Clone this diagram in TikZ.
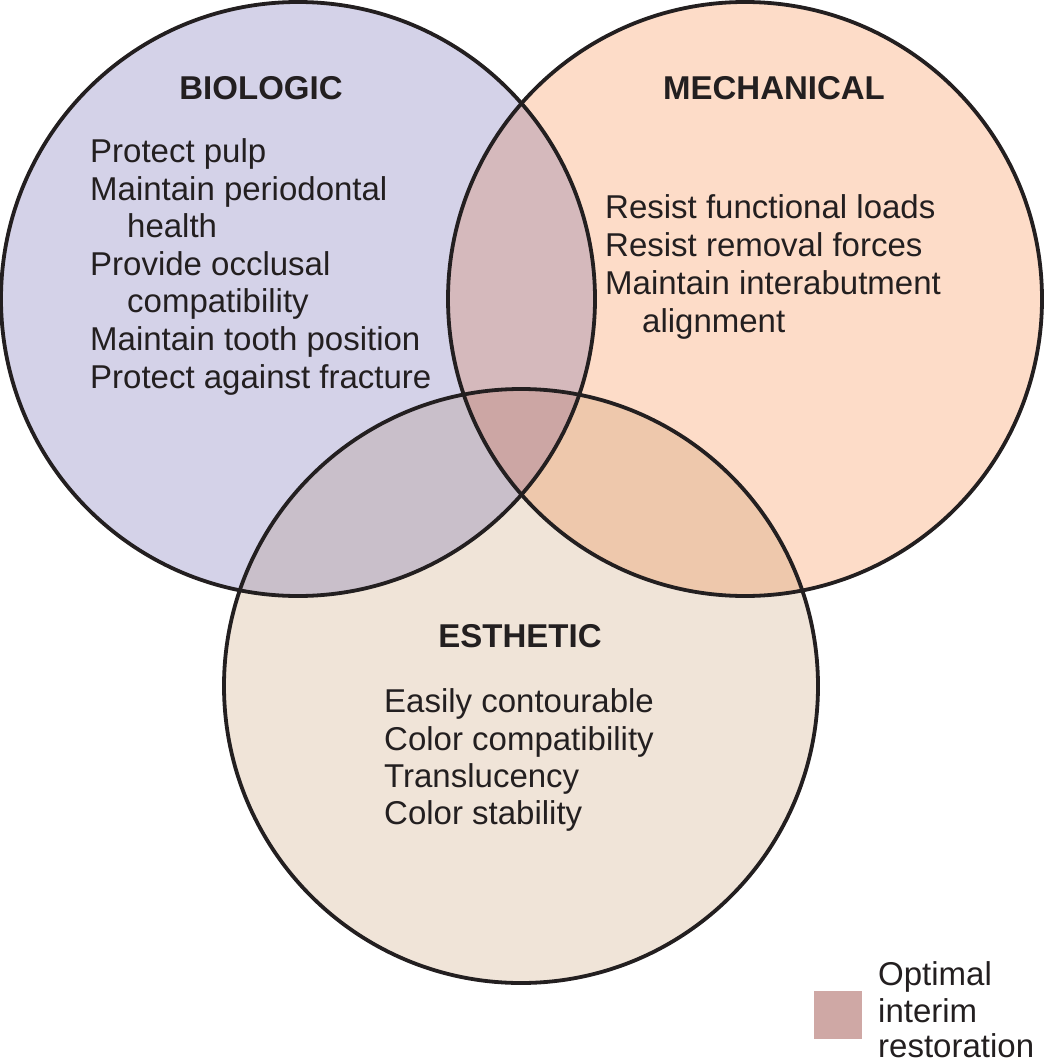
\documentclass[tikz,border=0pt]{standalone}
\usepackage{fontspec}
\setmainfont{Liberation Sans}
\definecolor{ink}{HTML}{231F20}
\definecolor{bio}{HTML}{D4D2E8}
\definecolor{mech}{HTML}{FDDCC8}
\definecolor{esth}{HTML}{F0E4D8}
\definecolor{bm}{HTML}{D5B9BC}
\definecolor{be}{HTML}{C9BFCA}
\definecolor{me}{HTML}{EEC8AC}
\definecolor{bme}{HTML}{CCA6A4}
\definecolor{legend}{HTML}{CFA8A5}
\begin{document}
\begin{tikzpicture}[x=1pt,y=-1pt,
  txt/.style={anchor=base west, inner sep=0pt, font=\fontsize{33}{38}\selectfont, text=ink},
  head/.style={anchor=base, inner sep=0pt, font=\fontsize{33}{38}\selectfont\bfseries, text=ink},
  ring/.style={draw=ink, line width=3.8pt}]
\useasboundingbox (0,0) rectangle (1044,1062);
\def\R{297}
\coordinate (cb) at (298,299);
\coordinate (cm) at (745,299);
\coordinate (ce) at (521,686);
% base fills
\fill[bio] (cb) circle[radius=\R];
\fill[mech] (cm) circle[radius=\R];
\fill[esth] (ce) circle[radius=\R];
% pairwise overlaps
\begin{scope}
  \clip (cb) circle[radius=\R];
  \fill[bm] (cm) circle[radius=\R];
  \fill[be] (ce) circle[radius=\R];
\end{scope}
\begin{scope}
  \clip (cm) circle[radius=\R];
  \fill[me] (ce) circle[radius=\R];
\end{scope}
\begin{scope}
  \clip (cb) circle[radius=\R];
  \clip (cm) circle[radius=\R];
  \fill[bme] (ce) circle[radius=\R];
\end{scope}
% outlines
\draw[ring] (cb) circle[radius=\R];
\draw[ring] (cm) circle[radius=\R];
\draw[ring] (ce) circle[radius=\R];
% headings
\node[head] (hb) at (261,100) {BIOLOGIC};
\node[head] (hm) at (774,100) {MECHANICAL};
\node[head] (he) at (520,647) {ESTHETIC};
% biologic items
\node[txt] (b1) at (90,162) {Protect pulp};
\node[txt] (b2) at (90,200) {Maintain periodontal};
\node[txt] (b3) at (127,237) {health};
\node[txt] (b4) at (90,275) {Provide occlusal};
\node[txt] (b5) at (127,312) {compatibility};
\node[txt] (b6) at (90,350) {Maintain tooth position};
\node[txt] (b7) at (90,388) {Protect against fracture};
% mechanical items
\node[txt] (m1) at (605,218) {Resist functional loads};
\node[txt] (m2) at (605,256) {Resist removal forces};
\node[txt] (m3) at (605,294) {Maintain interabutment};
\node[txt] (m4) at (642,332) {alignment};
% esthetic items
\node[txt] (e1) at (384,712) {Easily contourable};
\node[txt] (e2) at (384,750) {Color compatibility};
\node[txt] (e3) at (384,787) {Translucency};
\node[txt] (e4) at (384,824) {Color stability};
% legend
\fill[legend] (814,991) rectangle (862,1039);
\node[txt] (l1) at (878,985) {Optimal};
\node[txt] (l2) at (878,1022) {interim};
\node[txt] (l3) at (878,1057) {restoration};
\end{tikzpicture}
\end{document}
